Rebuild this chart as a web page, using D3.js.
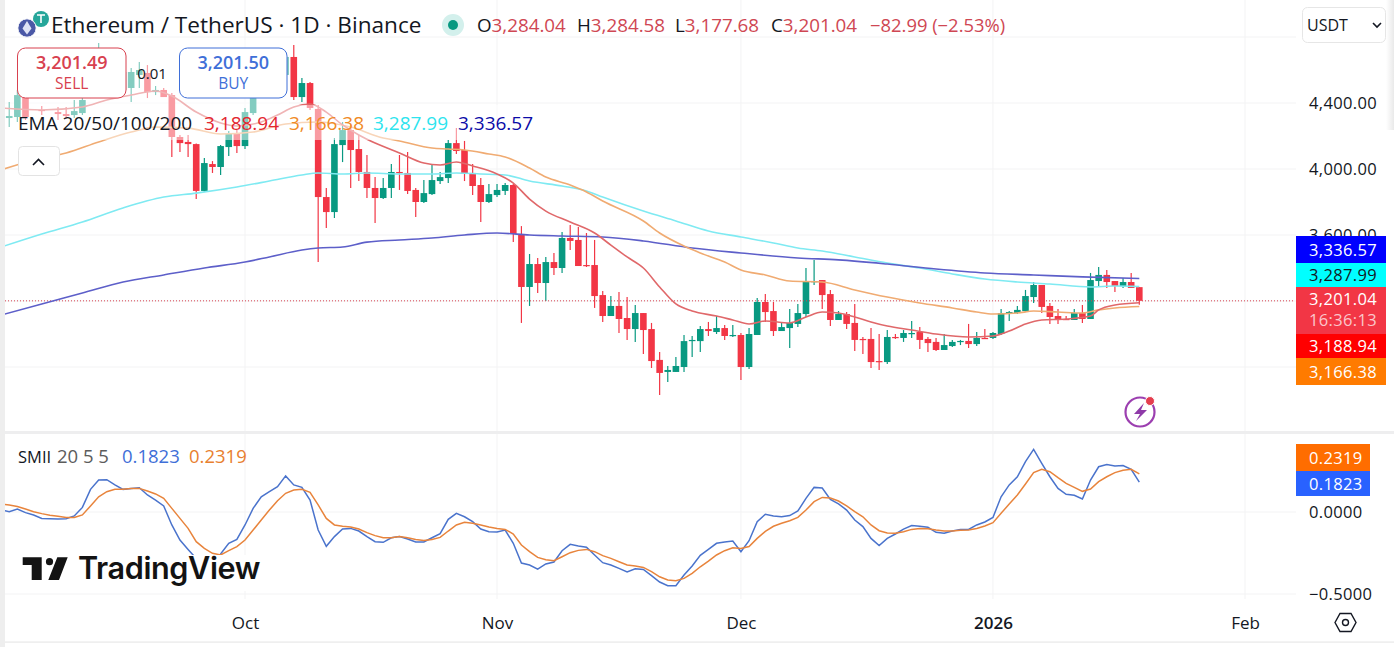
<!DOCTYPE html>
<html><head><meta charset="utf-8">
<script src="https://cdn.jsdelivr.net/npm/d3@7/dist/d3.min.js"></script>
<style>html,body{margin:0;padding:0;background:#fff;overflow:hidden}svg{display:block}text{font-family:"Open Sans","Noto Sans",sans-serif}</style>
</head><body><div id="c"></div>
<script>
// Days are counted from 1 Oct 2025; the candles start on day -29 (2 Sep 2025).
const firstDay = -29;
const firstSmiiDay = -30;
const candleOpen = [
4309,4315,4466,4466,4358,4479,4345,4333,4327,4339,4436,4509,4661,4588,4479,4491,4570,4582,4466,4479,
4448,4194,4164,4151,3867,4030,4012,4133,4212,4139,4339,4436,4539,4612,4570,4679,4436,4521,4364,3830,
3739,4145,4236,4121,3982,3885,3824,3885,3982,3976,3873,3800,3848,3927,3945,4157,4115,3976,3903,3800,
3842,3867,3903,3606,3285,3424,3309,3436,3400,3582,3570,3418,3418,3236,3109,3170,3097,3030,3127,3030,
2843,2770,2770,2800,2957,2957,3030,3012,3036,2988,2994,2800,2994,3194,3139,3018,3036,3061,3121,3315,
3327,3242,3085,3121,3067,2970,2970,2836,2830,2982,2976,3000,3012,2970,2952,2903,2927,2952,2958,2939,
2976,2976,3000,3127,3127,3139,3224,3297,3170,3109,3091,3085,3127,3091,3321,3358,3321,3291,3315,3284.04];
const candleHigh = [
4406,4479,4509,4509,4382,4539,4376,4376,4418,4466,4640,4763,4709,4648,4661,4612,4648,4630,4503,4491,
4460,4206,4206,4155,4067,4048,4145,4230,4236,4370,4479,4588,4661,4673,4709,4751,4551,4527,4388,3885,
4188,4285,4267,4206,4085,3951,3945,4030,4085,4103,3885,3933,4024,3982,4176,4248,4170,4030,3945,3909,
3909,3915,3909,3654,3485,3461,3467,3491,3618,3660,3648,3612,3570,3261,3230,3255,3224,3176,3127,3067,
2891,2806,2861,2994,2988,3048,3073,3109,3054,3054,3006,3036,3218,3242,3194,3067,3152,3182,3400,3449,
3327,3267,3139,3133,3182,2982,3036,3000,3024,3000,3024,3079,3042,2982,2976,3000,2964,2964,3061,3012,
3030,3012,3152,3139,3170,3267,3315,3297,3188,3152,3109,3152,3176,3370,3406,3388,3321,3339,3370,3284.58];
const candleLow = [
4254,4285,4297,4436,4327,4436,4297,4303,4309,4327,4430,4479,4539,4466,4454,4406,4491,4430,4448,4436,
4073,4103,4073,3818,3861,3976,3964,4079,4097,4121,4327,4436,4515,4527,4551,4418,4406,4358,3436,3642,
3703,4042,3885,3927,3824,3673,3818,3824,3873,3848,3709,3794,3842,3909,3915,4091,3927,3842,3679,3794,
3830,3842,3557,3067,3170,3248,3200,3358,3370,3509,3412,3406,3158,3073,3109,3006,2964,2952,2879,2794,
2630,2709,2770,2770,2861,2891,2988,3000,2964,2982,2721,2788,2994,3073,2988,3018,2915,3042,3103,3297,
3152,3048,3085,3030,2897,2879,2794,2782,2818,2970,2952,2976,2909,2891,2897,2903,2921,2933,2915,2927,
2970,2970,2994,3079,3121,3133,3188,3127,3061,3061,3085,3085,3067,3091,3285,3279,3255,3279,3279,3177.68];
const candleClose = [
4321,4448,4315,4442,4351,4442,4333,4321,4351,4418,4600,4661,4570,4491,4588,4588,4600,4466,4479,4436,
4194,4157,4151,3867,4036,4012,4139,4212,4139,4345,4430,4539,4612,4570,4679,4436,4521,4370,3830,3739,
4151,4236,4115,3982,3885,3824,3885,3982,3976,3867,3800,3854,3933,3951,4157,4109,3970,3897,3800,3848,
3873,3903,3606,3285,3424,3309,3436,3400,3582,3564,3412,3412,3230,3109,3170,3091,3030,3127,3024,2836,
2764,2782,2806,2957,2964,3030,3018,3036,2988,2994,2800,3000,3194,3133,3018,3042,3067,3127,3321,3321,
3236,3085,3121,3061,2964,2964,2830,2830,2982,2976,3006,3006,2964,2945,2903,2933,2952,2958,2939,2976,
2970,3006,3127,3133,3146,3230,3297,3164,3103,3085,3085,3127,3091,3327,3358,3315,3291,3315,3279,3201.04];

const ema20Days = [-30,-25,-20,-17,-14,-11,-9,-6,-3,-1,2,4,6,8,10,12,14,16,19,22,24,26,28,31,33,35,37,40,43,45,47,49,51,53,55,58,60,62,64,67,69,71,73,75,77,79,82,85,89,92,94,96,98,101,104,105,107,110];
const ema20Values = [4370,4358,4376,4418,4448,4473,4442,4345,4279,4261,4285,4327,4376,4394,4345,4267,4206,4157,4097,4036,4024,4042,4018,3970,3915,3818,3745,3679,3612,3539,3467,3400,3285,3182,3139,3109,3085,3061,3079,3067,3103,3133,3127,3103,3073,3048,3024,3000,2982,2988,3018,3061,3085,3091,3109,3146,3176,3188.94];
const ema50Days = [-30,-26,-22,-18,-14,-11,-7,-3,1,5,9,13,17,19,23,25,27,30,32,35,37,40,42,44,49,51,54,56,59,61,64,67,71,75,79,83,87,90,92,95,97,100,103,105,107,110];
const ema50Values = [3994,4055,4097,4164,4224,4254,4248,4212,4224,4273,4285,4254,4188,4170,4127,4121,4115,4091,4073,4006,3951,3903,3861,3806,3685,3612,3533,3491,3436,3388,3358,3321,3315,3267,3224,3188,3158,3133,3121,3127,3139,3133,3127,3146,3158,3166.38];
const ema100Days = [-30,-25,-20,-15,-10,-6,-1,3,7,9,12,15,19,23,26,29,32,35,39,42,44,49,53,57,61,65,68,71,75,79,83,87,91,95,99,104,107,110];
const ema100Values = [3527,3606,3679,3764,3830,3854,3891,3927,3964,3976,3970,3976,3970,3970,3976,3970,3964,3927,3897,3867,3830,3745,3685,3624,3588,3552,3521,3503,3467,3430,3400,3364,3333,3315,3303,3285,3291,3287.99];
const ema200Days = [-30,-25,-20,-15,-10,-5,0,3,7,9,12,15,19,23,27,31,35,39,44,49,55,61,68,73,79,85,91,97,103,110];
const ema200Values = [3115,3182,3248,3315,3358,3400,3436,3467,3509,3521,3527,3557,3570,3582,3600,3612,3600,3594,3588,3564,3521,3491,3461,3449,3424,3394,3370,3358,3346,3336.57];

const smiiBlue = [.012,
.002,.018,-.004,-.018,-.039,-.041,-.043,-.041,-.024,.028,.138,.195,.197,.165,.138,.144,.148,.104,.073,.037,
-.079,-.171,-.228,-.283,-.313,-.293,-.256,-.191,-.167,-.079,.022,.093,.124,.154,.220,.165,.150,.073,-.110,-.209,
-.150,-.104,-.100,-.116,-.150,-.181,-.185,-.157,-.150,-.165,-.183,-.183,-.157,-.132,-.045,-.008,
-.029,-.059,-.104,-.120,-.122,-.110,-.191,-.311,-.323,-.348,-.317,-.305,-.236,-.197,-.207,-.215,-.262,-.309,-.323,-.344,
-.366,-.346,-.350,-.388,-.427,-.449,-.449,-.384,-.329,-.264,-.228,-.191,-.183,-.177,-.242,-.175,-.059,-.014,-.024,-.029,
-.022,.006,.083,.150,.146,.077,.049,.012,-.049,-.089,-.161,-.205,-.161,-.134,-.104,-.083,-.087,
-.093,-.124,-.130,-.116,-.106,-.106,-.079,-.061,-.033,.093,.165,.215,.307,.382,.297,.215,.144,.108,.102,.079,.195,.276,.289,.280,.283,.260,.1823];
const smiiOrange = [.049,
.043,.033,.018,.002,-.010,-.020,-.026,-.033,-.033,-.018,.037,.093,.124,.138,.138,.144,.144,.128,.110,.083,
.022,-.039,-.100,-.181,-.222,-.252,-.262,-.236,-.211,-.171,-.110,-.049,.012,.069,.114,.134,.138,.120,.043,-.039,
-.079,-.087,-.091,-.104,-.126,-.144,-.157,-.157,-.150,-.157,-.167,-.173,-.167,-.155,-.116,-.079,
-.063,-.069,-.079,-.091,-.100,-.106,-.134,-.201,-.242,-.277,-.291,-.297,-.273,-.248,-.234,-.228,-.242,-.266,-.283,-.303,
-.323,-.329,-.338,-.364,-.395,-.415,-.419,-.405,-.374,-.334,-.299,-.262,-.236,-.218,-.222,-.211,-.161,-.118,-.087,-.069,
-.053,-.033,.012,.063,.089,.085,.067,.037,.002,-.029,-.079,-.114,-.128,-.130,-.120,-.106,-.100,
-.102,-.110,-.116,-.116,-.112,-.110,-.100,-.085,-.065,-.008,.049,.104,.171,.240,.260,.246,.209,.175,.150,.126,.140,.185,.215,.240,.254,.260,.2319];

const priceTicks = [4800,4400,4000,3600,3200,2800];
const smiiTicks = [0,-0.5];
const monthTicks = ["2025-10-01","2025-11-01","2025-12-01","2026-01-01","2026-02-01"];
const monthLabels = ["Oct","Nov","Dec","2026","Feb"];
const priceTags = [3336.57,3287.99,3201.04,3188.94,3166.38];
const priceTagFill = ["#0000ff","#00ffff","#f23645","#ff0000","#ff7b00"];
const priceTagText = ["#fff","#131722","#fff","#fff","#fff"];
const legendValues = [3188.94,3166.38,3287.99,3336.57];
const ohlc = [3284.04,3284.58,3177.68,3201.04];

const W=1394,H=647, UP="#089981", DOWN="#f23645";
const dayMs=864e5, origin=Date.UTC(2025,9,1);
const toDate=d=>new Date(origin+d*dayMs);
const x=d3.scaleUtc().domain([new Date(monthTicks[0]),new Date(monthTicks[4])]).range([245,1245]);
const y=d3.scaleLinear().domain([4400,4000]).range([103,169]);
const ys=d3.scaleLinear().domain([0,-0.5]).range([512,594]);
const f2=d3.format(",.2f");
const svg=d3.select("#c").append("svg").attr("width",W).attr("height",H);
svg.append("rect").attr("width",W).attr("height",H).attr("fill","#fff");
const defs=svg.append("defs");
defs.append("clipPath").attr("id","cp1").append("rect").attr("x",5).attr("y",0).attr("width",1290).attr("height",431);
defs.append("clipPath").attr("id","cp2").append("rect").attr("x",5).attr("y",434).attr("width",1290).attr("height",170);
const g=defs.append("linearGradient").attr("id","shade").attr("x1",0).attr("x2",1);
g.append("stop").attr("offset",0).attr("stop-color","#fff");g.append("stop").attr("offset",1).attr("stop-color","#e9e9e9");

function txt(s,px,py,size,fill,o={}){return svg.append("text").attr("x",px).attr("y",py).attr("font-size",size).attr("fill",fill)
  .attr("text-anchor",o.anchor||"start").attr("font-weight",o.weight||400).attr("letter-spacing",o.ls||0).text(s)}

// grid
const mDates=monthTicks.map(d=>new Date(d));
svg.selectAll(".vg1").data(mDates).enter().append("line").attr("x1",d=>x(d)).attr("x2",d=>x(d)).attr("y1",0).attr("y2",431).attr("stroke","#f3f3f4");
svg.selectAll(".vg2").data(mDates).enter().append("line").attr("x1",d=>x(d)).attr("x2",d=>x(d)).attr("y1",434).attr("y2",599).attr("stroke","#f3f3f4");
svg.selectAll(".hg1").data(priceTicks).enter().append("line").attr("x1",5).attr("x2",1296).attr("y1",d=>y(d)).attr("y2",d=>y(d)).attr("stroke","#f3f3f4");
svg.selectAll(".hg2").data(smiiTicks).enter().append("line").attr("x1",5).attr("x2",1296).attr("y1",d=>ys(d)).attr("y2",d=>ys(d)).attr("stroke","#f3f3f4");

// candles
const cs=candleOpen.map((o,i)=>({d:toDate(firstDay+i),o,h:candleHigh[i],l:candleLow[i],c:candleClose[i]}));
const pane=svg.append("g").attr("clip-path","url(#cp1)");
const col=d=>d.c>=d.o?UP:DOWN;
pane.selectAll(".w").data(cs).enter().append("line").attr("x1",d=>x(d.d)).attr("x2",d=>x(d.d)).attr("y1",d=>y(d.h)).attr("y2",d=>y(d.l)).attr("stroke",col).attr("stroke-width",1.2);
pane.selectAll(".b").data(cs).enter().append("rect").attr("x",d=>x(d.d)-3.3).attr("width",6.6)
  .attr("y",d=>y(Math.max(d.o,d.c))).attr("height",d=>Math.max(1.2,Math.abs(y(d.o)-y(d.c)))).attr("fill",col);

// dotted last price
pane.append("line").attr("x1",5).attr("x2",1296).attr("y1",y(ohlc[3])).attr("y2",y(ohlc[3])).attr("stroke","#d6404e").attr("stroke-width",1).attr("stroke-dasharray","1 2");

// EMAs
const ln=d3.line().x(d=>x(toDate(d[0]))).y(d=>y(d[1])).curve(d3.curveMonotoneX);
[[ema100Days,ema100Values,"#7feaf2",1.6],[ema200Days,ema200Values,"#5d5fc9",1.6],[ema50Days,ema50Values,"#f0ab72",1.6],[ema20Days,ema20Values,"#e0686a",1.6]]
 .forEach(([ds,vs,c,w])=>pane.append("path").attr("fill","none").attr("stroke",c).attr("stroke-width",w).attr("d",ln(ds.map((d,i)=>[d,vs[i]]))));

// translucent legend backdrop
pane.append("rect").attr("x",5).attr("y",40).attr("width",284).attr("height",65).attr("fill","#fff").attr("opacity",.5);
pane.append("rect").attr("x",5).attr("y",105).attr("width",531).attr("height",35).attr("fill","#fff").attr("opacity",.5);

// SMII
const p2=svg.append("g").attr("clip-path","url(#cp2)");
const ls=d3.line().x((d,i)=>x(toDate(firstSmiiDay+i))).y(d=>ys(d));
p2.append("path").attr("fill","none").attr("stroke","#4a73cc").attr("stroke-width",1.5).attr("d",ls(smiiBlue));
p2.append("path").attr("fill","none").attr("stroke","#e8843c").attr("stroke-width",1.5).attr("d",ls(smiiOrange));

// panels / separators
svg.append("rect").attr("x",0).attr("y",431).attr("width",W).attr("height",3).attr("fill","#eeeeef");
svg.append("rect").attr("x",0).attr("y",641.5).attr("width",W).attr("height",1.2).attr("fill","#e8e8e8");
svg.append("rect").attr("x",0).attr("y",0).attr("width",5).attr("height",H).attr("fill","#eeeeee");
svg.append("rect").attr("x",1386).attr("y",0).attr("width",8).attr("height",130).attr("fill","url(#shade)");

// TradingView mark
const lg=svg.append("g");
lg.append("rect").attr("x",20).attr("y",555).attr("width",243).attr("height",36).attr("fill","#fff");
lg.append("path").attr("fill","#131313").attr("d","M22.7 557.3H41.7V580H31.7V565H22.7Z M57.3 557.3H67.7L59 580H48.3Z");
lg.append("circle").attr("cx",49.5).attr("cy",561.7).attr("r",3.6).attr("fill","#131313");
svg.append("text").attr("x",78).attr("y",579).attr("font-size",30.6).attr("font-weight",600).attr("fill","#131313").attr("letter-spacing",-0.4).style("font-family","Inter").text("TradingView");

// axes
const ax1=svg.append("g").attr("transform","translate(1309,0)").call(d3.axisRight(y).tickValues(priceTicks.slice(1,4)).tickFormat(f2).tickSize(0).tickPadding(0));
ax1.select(".domain").remove();ax1.selectAll("text").attr("font-size",16.5).attr("fill","#131722").style("font-family",'"Open Sans"').attr("letter-spacing",.35);
const ax2=svg.append("g").attr("transform","translate(1309,0)").call(d3.axisRight(ys).tickValues(smiiTicks).tickFormat(d3.format(".4f")).tickSize(0).tickPadding(0));
ax2.select(".domain").remove();ax2.selectAll("text").attr("font-size",16.5).attr("fill","#131722").style("font-family",'"Open Sans"').attr("letter-spacing",.35);
const ax3=svg.append("g").attr("transform","translate(0,623)").call(d3.axisBottom(x).tickValues(mDates).tickFormat((d,i)=>monthLabels[i]).tickSize(0).tickPadding(0));
ax3.select(".domain").remove();ax3.selectAll("text").attr("font-size",17).attr("fill","#131722").attr("dy",".33em").attr("y",0).style("font-family",'"Open Sans"')
  .attr("font-weight",(d,i)=>monthLabels[i]==="2026"?600:400);

// price tags
const tagH=[27,24,47,24,27];let ty=236;
priceTags.forEach((v,i)=>{
  svg.append("rect").attr("x",1296).attr("y",ty).attr("width",90).attr("height",tagH[i]).attr("fill",priceTagFill[i]);
  const b=ty+(i===2?18:tagH[i]/2+6);
  txt(f2(v),1309,b,16.5,priceTagText[i],{ls:.35});
  if(i===2) txt("16:36:13",1309,ty+39,16.5,"#fbc6cb",{ls:.35});
  ty+=tagH[i];
});
const smiiTag=[[0.2319,"#ff6d00",444,27],[0.1823,"#2962ff",471,25]];
smiiTag.forEach(([v,c,t,h])=>{
  svg.append("rect").attr("x",1296).attr("y",t).attr("width",74).attr("height",h).attr("fill",c);
  txt(d3.format(".4f")(v),1309,t+h/2+6,16.5,"#fff",{ls:.35});
});

// header
const ic=svg.append("g");
ic.append("circle").attr("cx",41).attr("cy",19).attr("r",8).attr("fill","#26a69a");
ic.append("path").attr("d","M37 15H45M41 15V23").attr("stroke","#fff").attr("stroke-width",1.6);
ic.append("circle").attr("cx",27).attr("cy",28).attr("r",9.2).attr("fill","#4a58a6").attr("stroke","#fff").attr("stroke-width",1);
ic.append("path").attr("d","M27 21L31.5 28.5L27 34.5L22.5 28.5Z").attr("fill","#dfe3f5");
txt("Ethereum / TetherUS · 1D · Binance",51,33,22.6,"#131722");
svg.append("circle").attr("cx",453).attr("cy",25).attr("r",11).attr("fill","#d3f0ec");
svg.append("circle").attr("cx",453).attr("cy",25).attr("r",5).attr("fill","#089981");
const hdr=[["O",477],["H",577],["L",675],["C",771]];
const RED="#cf4753";
hdr.forEach(([k,px],i)=>{
  const t=svg.append("text").attr("x",px).attr("y",32).attr("font-size",18.8);
  t.append("tspan").attr("fill","#131722").text(k);
  t.append("tspan").attr("fill",RED).text(f2(ohlc[i]));
});
txt("−82.99 (−2.53%)",870,32,18.4,RED);

// buy / sell
const btn=(bx,w,c,pr,lab)=>{
  svg.append("rect").attr("x",bx).attr("y",48).attr("width",w).attr("height",50).attr("rx",8).attr("fill","#fff").attr("stroke",c).attr("stroke-width",1);
  txt(pr,bx+w/2,69,18,c,{anchor:"middle",weight:600});
  txt(lab,bx+w/2,89,15.5,c,{anchor:"middle",weight:500});
};
btn(17.5,108.5,"#d8414f","3,201.49","SELL");
btn(179.5,107.5,"#3f6fd8","3,201.50","BUY");
txt("0.01",152,79,15,"#131722",{anchor:"middle"});

// legend
txt("EMA 20/50/100/200",18,130,19,"#131722");
const legendX=[204,289,373,458],legendC=["#e3272f","#f08a24","#2de4ee","#0b0ba8"];
legendValues.forEach((v,i)=>txt(f2(v),legendX[i],130,19,legendC[i]));
svg.append("rect").attr("x",18.5).attr("y",146.5).attr("width",41).attr("height",29).attr("rx",4).attr("fill","#fff").attr("stroke","#e3e3e3");
svg.append("path").attr("d","M33 165L38.5 159.5L44 165").attr("fill","none").attr("stroke","#131722").attr("stroke-width",1.6);
txt("SMII",18,463,16.5,"#131722");
txt("20 5 5",57,463,18.5,"#5c5c5c");
txt(d3.format(".4f")(smiiBlue[smiiBlue.length-1]),122,463,18.5,"#3f6fd8");
txt(d3.format(".4f")(smiiOrange[smiiOrange.length-1]),189,463,18.5,"#e8802f");

// USDT button
svg.append("rect").attr("x",1302.5).attr("y",7.5).attr("width",83).attr("height",35).attr("rx",5).attr("fill","#fff").attr("stroke","#e6e6e6");
txt("USDT",1307,31,16,"#131722");
svg.append("path").attr("d","M1373 23L1377 27L1381 23").attr("fill","none").attr("stroke","#131722").attr("stroke-width",1.6);

// flash icon
svg.append("circle").attr("cx",1140).attr("cy",412).attr("r",14.5).attr("fill","#fff").attr("stroke","#9c3fb0").attr("stroke-width",2.2);
svg.append("path").attr("d","M1144 403L1134 414H1140L1136 421L1147 410H1141Z").attr("fill","#8e3aa8");
svg.append("circle").attr("cx",1150).attr("cy",401).attr("r",4.5).attr("fill","#e53d4e").attr("stroke","#fff");

// settings hex
svg.append("path").attr("d","M1335 622.5L1340 613.5H1351L1356 622.5L1351 631.5H1340Z").attr("fill","none").attr("stroke","#131722").attr("stroke-width",1.4);
svg.append("circle").attr("cx",1345.5).attr("cy",622.5).attr("r",3).attr("fill","none").attr("stroke","#131722").attr("stroke-width",1.4);
</script></body></html>
